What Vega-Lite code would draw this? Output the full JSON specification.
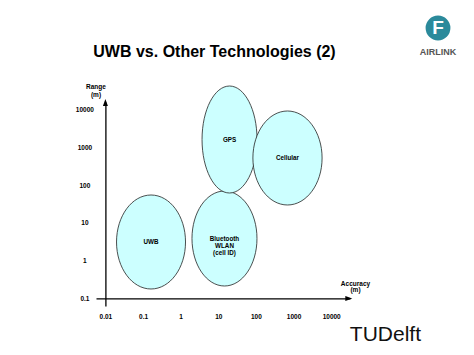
{
  "$schema": "https://vega.github.io/schema/vega-lite/v6.json",
  "autosize": "none",
  "width": 254,
  "height": 204,
  "padding": {"left": 96, "top": 102, "right": 124, "bottom": 49},
  "background": "white",
  "title": {
    "text": "UWB vs. Other Technologies (2)",
    "anchor": "middle",
    "frame": "group",
    "dx": -8.5,
    "dy": 60.5,
    "offset": 16,
    "font": "Liberation Sans",
    "fontSize": 16,
    "fontWeight": "bold",
    "color": "#000000"
  },
  "config": {
    "view": {"stroke": null},
    "font": "Liberation Sans"
  },
  "resolve": {"scale": {"shape": "independent"}},
  "encoding": {
    "x": {
      "field": "accuracy",
      "type": "quantitative",
      "scale": {"type": "log", "domain": [0.0056234, 31623], "nice": false, "zero": false},
      "axis": {
        "values": [0.01, 0.1, 1, 10, 100, 1000, 10000],
        "format": "~g",
        "offset": -7.6,
        "grid": false,
        "ticks": false,
        "tickSize": 0,
        "domainColor": "#000000",
        "domainWidth": 1.3,
        "labelFont": "Liberation Sans",
        "labelFontSize": 6.5,
        "labelFontWeight": "bold",
        "labelColor": "#000000",
        "labelPadding": 15,
        "labelFlush": false,
        "labelOverlap": false,
        "labelBound": false,
        "title": ["Accuracy", "(m)"],
        "titleFont": "Liberation Sans",
        "titleFontSize": 6.5,
        "titleFontWeight": "bold",
        "titleColor": "#000000",
        "titleAngle": 0,
        "titleAlign": "center",
        "titleBaseline": "alphabetic",
        "titleLineHeight": 6.5,
        "titleX": 259,
        "titleY": -13.2
      }
    },
    "y": {
      "field": "range",
      "type": "quantitative",
      "scale": {"type": "log", "domain": [0.0630957, 15848.9], "nice": false, "zero": false},
      "axis": {
        "values": [0.1, 1, 10, 100, 1000, 10000],
        "format": "~g",
        "offset": -9.4,
        "grid": false,
        "ticks": false,
        "tickSize": 0,
        "domainColor": "#000000",
        "domainWidth": 1.3,
        "labelFont": "Liberation Sans",
        "labelFontSize": 6.5,
        "labelFontWeight": "bold",
        "labelColor": "#000000",
        "labelAlign": "center",
        "labelBaseline": "middle",
        "labelPadding": 21,
        "labelFlush": false,
        "labelOverlap": false,
        "labelBound": false,
        "title": ["Range", "(m)"],
        "titleFont": "Liberation Sans",
        "titleFontSize": 6.5,
        "titleFontWeight": "bold",
        "titleColor": "#000000",
        "titleAngle": 0,
        "titleAlign": "center",
        "titleBaseline": "alphabetic",
        "titleLineHeight": 8,
        "titleX": -9.9,
        "titleY": -13.5
      }
    }
  },
  "layer": [
    {
      "data": {
        "values": [
          {"tech": "UWB", "accuracy": 0.163, "range": 3.12},
          {"tech": "Bluetooth\nWLAN\n(cell ID)", "accuracy": 14.6, "range": 3.86},
          {"tech": "GPS", "accuracy": 19.9, "range": 1611},
          {"tech": "Cellular", "accuracy": 690, "range": 522}
        ]
      },
      "mark": {"type": "point", "filled": true, "fill": "#ccffff", "stroke": "#222222", "strokeWidth": 0.8, "opacity": 1, "size": 4},
      "encoding": {
        "shape": {
          "field": "tech",
          "type": "nominal",
          "legend": null,
          "scale": {
            "domain": ["UWB", "Bluetooth\nWLAN\n(cell ID)", "GPS", "Cellular"],
            "range": [
              "M -34.5 0 A 34.5 47 0 1 0 34.5 0 A 34.5 47 0 1 0 -34.5 0 Z",
              "M -32.5 0 A 32.5 47.5 0 1 0 32.5 0 A 32.5 47.5 0 1 0 -32.5 0 Z",
              "M -27.5 0 A 27.5 53.5 0 1 0 27.5 0 A 27.5 53.5 0 1 0 -27.5 0 Z",
              "M -34.6 0 A 34.6 47 0 1 0 34.6 0 A 34.6 47 0 1 0 -34.6 0 Z"
            ]
          }
        }
      }
    },
    {
      "data": {
        "values": [
          {"tech": "UWB", "accuracy": 0.163, "range": 3.12},
          {"tech": "Bluetooth\nWLAN\n(cell ID)", "accuracy": 14.6, "range": 3.86},
          {"tech": "GPS", "accuracy": 19.9, "range": 1611},
          {"tech": "Cellular", "accuracy": 690, "range": 522}
        ]
      },
      "mark": {"type": "text", "font": "Liberation Sans", "fontSize": 6.3, "fontWeight": "bold", "color": "#000000", "lineBreak": "\n", "lineHeight": 7.3, "align": "center", "baseline": "middle"},
      "encoding": {
        "text": {"field": "tech", "type": "nominal"}
      }
    },
    {
      "data": {
        "values": [
          {"dir": "up", "accuracy": 0.01, "range": 15848.9},
          {"dir": "right", "accuracy": 31623, "range": 0.1}
        ]
      },
      "mark": {"type": "point", "filled": true, "fill": "#000000", "strokeWidth": 0, "opacity": 1, "size": 4},
      "encoding": {
        "shape": {
          "field": "dir",
          "type": "nominal",
          "legend": null,
          "scale": {
            "domain": ["up", "right"],
            "range": ["M 0 -3 L 2.5 4 L -2.5 4 Z", "M 2.3 0 L -4.7 -2.5 L -4.7 2.5 Z"]
          }
        }
      }
    },
    {
      "data": {"values": [{"logo": "TUDelft", "accuracy": 277000, "range": 0.00748}]},
      "mark": {"type": "text", "font": "Liberation Sans", "fontSize": 21, "color": "#111111", "align": "center", "baseline": "alphabetic"},
      "encoding": {"text": {"field": "logo", "type": "nominal"}}
    },
    {
      "data": {"values": [{"logo": "F", "accuracy": 6900000, "range": 1440000}]},
      "mark": {"type": "point", "shape": "circle", "filled": true, "fill": "#2b8a9b", "strokeWidth": 0, "opacity": 1, "size": 616}
    },
    {
      "data": {"values": [{"logo": "F", "accuracy": 6900000, "range": 1440000}]},
      "mark": {"type": "text", "font": "Liberation Sans", "fontSize": 19, "fontWeight": "bold", "color": "#ffffff", "align": "center", "baseline": "middle"},
      "encoding": {"text": {"field": "logo", "type": "nominal"}}
    },
    {
      "data": {"values": [{"logo": "AIRLINK", "accuracy": 6900000, "range": 330000}]},
      "mark": {"type": "text", "font": "Liberation Sans", "fontSize": 9, "fontWeight": "bold", "color": "#555555", "align": "center", "baseline": "middle"},
      "encoding": {"text": {"field": "logo", "type": "nominal"}}
    }
  ]
}
